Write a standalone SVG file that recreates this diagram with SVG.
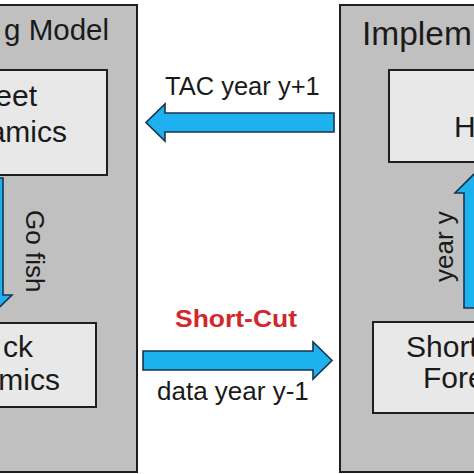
<svg xmlns="http://www.w3.org/2000/svg" width="474" height="474" viewBox="0 0 474 474">
<style>
.panel{fill:#c0c0c0;stroke:#1e1e1e;stroke-width:2}
.box{fill:#e8e8e8;stroke:#1e1e1e;stroke-width:2}
.t{font-family:"Liberation Sans",Arial,sans-serif;fill:#1a1a1a}
.arrow{fill:#1db1f0;stroke:#17344f;stroke-width:1.6;stroke-linejoin:miter}
</style>
<rect width="474" height="474" fill="#ffffff"/>
<g id="operating-model">
  <rect class="panel" x="-10" y="5" width="147" height="467"/>
  <text class="t" x="109" y="40" font-size="29.5" text-anchor="end">g Model</text>
</g>
<g id="implementation">
  <rect class="panel" x="340" y="5" width="150" height="467"/>
  <text class="t" x="362" y="45" font-size="33.5">Implem</text>
</g>
<g id="fleet-dynamics">
  <rect class="box" x="-10" y="70" width="117" height="105"/>
  <text class="t" x="37" y="106" font-size="30" text-anchor="end">eet</text>
  <text class="t" x="67" y="142" font-size="30" text-anchor="end">amics</text>
</g>
<g id="stock-dynamics">
  <rect class="box" x="-10" y="323" width="106" height="84"/>
  <text class="t" x="33" y="357" font-size="30" text-anchor="end">ck</text>
  <text class="t" x="60" y="390" font-size="30" text-anchor="end">mics</text>
</g>
<g id="hcr">
  <rect class="box" x="389" y="70" width="100" height="92"/>
  <text class="t" x="454" y="137" font-size="30">H</text>
</g>
<g id="short-forecast">
  <rect class="box" x="373" y="322" width="120" height="91"/>
  <text class="t" x="406" y="357" font-size="30">Short</text>
  <text class="t" x="423" y="388" font-size="30">Forec</text>
</g>
<g id="connectors">
  <polygon class="arrow" points="334,113 165,113 165,104 146,122.5 165,141 165,132 334,132"/>
  <text class="t" x="165" y="95" font-size="25.5">TAC year y+1</text>
  <polygon class="arrow" points="143,351 313,351 313,342 332,360.5 313,379 313,370 143,370"/>
  <text x="175" y="327" font-size="23" font-weight="bold" fill="#d0282c" font-family="Liberation Sans,Arial,sans-serif" textLength="122" lengthAdjust="spacingAndGlyphs">Short-Cut</text>
  <text class="t" x="157" y="400" font-size="26">data year y-1</text>
  <polygon class="arrow" points="-16,178 3,178 3,295 12,295 -6.5,313 -25,295 -16,295"/>
  <text class="t" font-size="26" transform="translate(26,210) rotate(90)">Go fish</text>
  <polygon class="arrow" points="464,308 464,193 455,193 473.5,174.5 492,193 483,193 483,308"/>
  <text class="t" font-size="26" transform="translate(453,282) rotate(-90)">year y</text>
</g>
</svg>
